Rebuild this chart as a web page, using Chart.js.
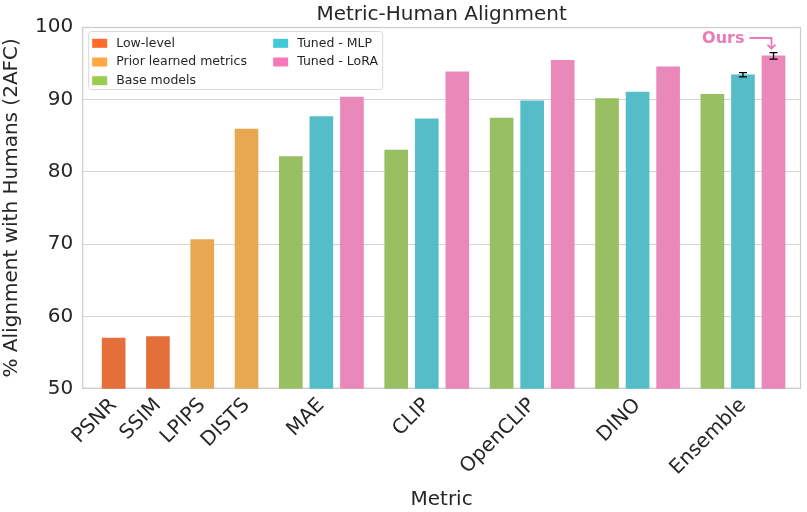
<!DOCTYPE html>
<html lang="en">
<head>
<meta charset="UTF-8" />
<title>Metric-Human Alignment</title>
<script src="https://cdn.jsdelivr.net/npm/chart.js"></script>
<style>
    body { margin: 0; background: #fff; }
    #wrap { width: 807px; height: 512px; }
</style>
</head>
<body>
<div id="wrap"><canvas id="alignChart"></canvas></div>
<script>
    // values, one slot per metric (null = no bar)
    const categories   = ['PSNR', 'SSIM', 'LPIPS', 'DISTS', 'MAE', 'CLIP', 'OpenCLIP', 'DINO', 'Ensemble'];
    const lowLevel     = [57.0, 57.2, null, null, null, null, null, null, null];
    const priorLearned = [null, null, 70.6, 85.9, null, null, null, null, null];
    const baseModels   = [null, null, null, null, 82.1, 83.0, 87.4, 90.1, 90.7];
    const tunedMLP     = [null, null, null, null, 87.6, 87.3, 89.8, 91.0, 93.4];
    const tunedLoRA    = [null, null, null, null, 90.3, 93.8, 95.4, 94.5, 96.0];
    const mlpError     = [null, null, null, null, null, null, null, null, 0.3];
    const loraError    = [null, null, null, null, null, null, null, null, 0.45];
    const yTicks       = [50, 60, 70, 80, 90, 100];

    const seriesNames  = ['Low-level', 'Prior learned metrics', 'Base models', 'Tuned - MLP', 'Tuned - LoRA'];
    const seriesValues = [lowLevel, priorLearned, baseModels, tunedMLP, tunedLoRA];
    const seriesErrors = [null, null, null, mlpError, loraError];
    const barColors    = ['#e56f3b', '#e8a851', '#98c062', '#55bdc8', '#ea88b9'];
    const legendColors = ['#ff6a2b', '#ffa83f', '#9acd52', '#40c9d9', '#f978b9'];
    const TEXT = '#262626';

    Chart.defaults.font.family = '"DejaVu Sans", sans-serif';

    // bars of one metric sit 1 unit apart, metrics are separated by a wider step
    const BAR_STEP = 1, METRIC_STEP = 1.45;
    const barX = seriesValues.map(() => []);
    const tickCenters = [];
    let pos = 0, lastX = 0;
    categories.forEach((cat, i) => {
        const xs = [];
        seriesValues.forEach((vals, s) => {
            if (vals[i] == null) return;
            barX[s][i] = pos;
            xs.push(pos);
            lastX = pos;
            pos += BAR_STEP;
        });
        tickCenters.push((xs[0] + xs[xs.length - 1]) / 2);
        pos += METRIC_STEP - BAR_STEP;
    });

    const datasets = seriesNames.map((name, s) => ({
        label: name,
        data: seriesValues[s]
            .map((v, i) => v == null ? null : { x: barX[s][i], y: v })
            .filter(p => p),
        backgroundColor: barColors[s],
        borderWidth: 0,
        barThickness: 23,
        grouped: false
    }));

    // frame, error bars, legend and the "Ours" callout
    const decorations = {
        id: 'decorations',
        beforeDatasetsDraw(chart) {
            const { ctx, chartArea: a } = chart;
            ctx.save();
            ctx.strokeStyle = '#cccccc';
            ctx.lineWidth = 1.2;
            ctx.strokeRect(a.left + 0.5, a.top + 0.5, a.right - a.left - 1, a.bottom - a.top - 1);
            ctx.restore();
        },
        afterDatasetsDraw(chart) {
            const { ctx, scales } = chart;
            ctx.save();
            ctx.strokeStyle = '#000';
            ctx.lineWidth = 1.3;
            seriesErrors.forEach((errs, s) => {
                if (!errs) return;
                errs.forEach((e, i) => {
                    if (e == null) return;
                    const x = scales.x.getPixelForValue(barX[s][i]);
                    const y1 = scales.y.getPixelForValue(seriesValues[s][i] + e);
                    const y2 = scales.y.getPixelForValue(seriesValues[s][i] - e);
                    ctx.beginPath();
                    ctx.moveTo(x, y1); ctx.lineTo(x, y2);
                    ctx.moveTo(x - 4, y1); ctx.lineTo(x + 4, y1);
                    ctx.moveTo(x - 4, y2); ctx.lineTo(x + 4, y2);
                    ctx.stroke();
                });
            });
            ctx.restore();
        },
        afterDraw(chart) {
            const { ctx, chartArea: a, scales } = chart;
            ctx.save();

            // legend box, two columns
            const bx = a.left + 6, by = a.top + 4, bw = 294, bh = 58;
            ctx.fillStyle = 'rgba(255,255,255,0.85)';
            ctx.strokeStyle = '#d9d9d9';
            ctx.lineWidth = 1;
            ctx.beginPath();
            ctx.roundRect(bx + 0.5, by + 0.5, bw, bh, 3);
            ctx.fill();
            ctx.stroke();
            ctx.font = '12.5px "DejaVu Sans"';
            ctx.textBaseline = 'middle';
            ctx.textAlign = 'left';
            seriesNames.forEach((name, s) => {
                const col = s < 3 ? 0 : 1;
                const row = s < 3 ? s : s - 3;
                const px = bx + (col ? 185 : 4);
                const py = by + 12.3 + row * 18.7;
                ctx.fillStyle = legendColors[s];
                ctx.fillRect(px, py - 4.5, 15, 9);
                ctx.fillStyle = TEXT;
                ctx.fillText(name, px + 24, py);
            });

            // "Ours" arrow to the last LoRA bar
            const last = categories.length - 1;
            const ox = scales.x.getPixelForValue(barX[4][last]);
            const oTop = scales.y.getPixelForValue(tunedLoRA[last] + loraError[last]);
            const oy = a.top + 11;
            ctx.fillStyle = '#ec7ab6';
            ctx.strokeStyle = '#ec7ab6';
            ctx.font = 'bold 16px "DejaVu Sans"';
            ctx.textAlign = 'right';
            ctx.fillText('Ours', ox - 29, oy + 1);
            ctx.lineWidth = 1.8;
            ctx.beginPath();
            ctx.moveTo(ox - 24, oy);
            ctx.lineTo(ox - 2, oy);
            ctx.lineTo(ox - 2, oTop - 4);
            ctx.moveTo(ox - 6, oTop - 8);
            ctx.lineTo(ox - 2, oTop - 4);
            ctx.lineTo(ox + 2, oTop - 8);
            ctx.stroke();
            ctx.restore();
        }
    };

    new Chart(document.getElementById('alignChart'), {
        type: 'bar',
        data: { datasets: datasets },
        plugins: [decorations],
        options: {
            responsive: true,
            maintainAspectRatio: false,
            animation: false,
            layout: { padding: { left: 0, right: 6, top: 0, bottom: 0 } },
            plugins: {
                legend: { display: false },
                tooltip: { enabled: false },
                title: {
                    display: true,
                    text: 'Metric-Human Alignment',
                    fullSize: false,
                    color: TEXT,
                    font: { size: 20, weight: 'normal' },
                    padding: { top: 3, bottom: 0 }
                }
            },
            scales: {
                x: {
                    type: 'linear',
                    offset: false,
                    min: -1.03,
                    max: lastX + 0.9,
                    afterBuildTicks: axis => { axis.ticks = tickCenters.map(v => ({ value: v })); },
                    ticks: {
                        autoSkip: false,
                        maxRotation: 45,
                        minRotation: 45,
                        color: TEXT,
                        font: { size: 20 },
                        padding: 5,
                        callback: (v, i) => categories[i]
                    },
                    grid: { display: false, drawTicks: false },
                    border: { display: false },
                    title: {
                        display: true,
                        text: 'Metric',
                        color: TEXT,
                        font: { size: 20 },
                        padding: { top: 3, bottom: 0 }
                    }
                },
                y: {
                    min: yTicks[0],
                    max: yTicks[yTicks.length - 1],
                    afterBuildTicks: axis => { axis.ticks = yTicks.map(v => ({ value: v })); },
                    ticks: { color: TEXT, font: { size: 20 }, padding: 9 },
                    grid: { color: '#d4d4d4', drawTicks: false, lineWidth: 1 },
                    border: { display: false },
                    title: {
                        display: true,
                        text: '% Alignment with Humans (2AFC)',
                        color: TEXT,
                        font: { size: 20 },
                        padding: { top: 0, bottom: 2 }
                    }
                }
            }
        }
    });
</script>
</body>
</html>
